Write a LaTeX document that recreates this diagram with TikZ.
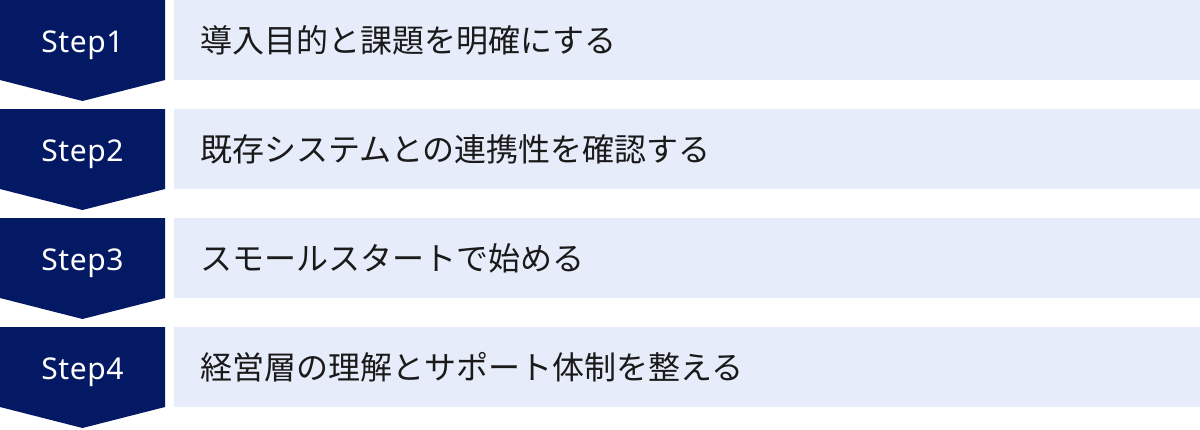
\documentclass[tikz,border=0pt]{standalone}
\usepackage{fontspec}
\setmainfont{Noto Sans CJK JP}
\newfontfamily\stepfont[LetterSpace=2]{Noto Sans}
\usepackage{tikz}
\usetikzlibrary{positioning}
\definecolor{stepnavy}{RGB}{4,25,99}
\definecolor{boxblue}{RGB}{230,236,250}
\definecolor{textdark}{RGB}{26,26,26}
% one dark step marker: rectangle with a downward point
\newcommand{\stepmark}[1]{%
  \fill[stepnavy] (0,#1) -- (165,#1) -- (165,#1+80) -- (82.5,#1+101) -- (0,#1+80) -- cycle;}
\tikzstyle{steplabel} = [text=white, font=\stepfont\fontsize{30}{36}\selectfont, inner sep=0pt, anchor=base]
\tikzstyle{taskbox} = [fill=boxblue, text=textdark, anchor=north west, minimum height=80pt,
  text width=974pt, inner xsep=26pt, inner ysep=0pt, align=left,
  font=\fontsize{32}{38}\selectfont]

\begin{document}
\begin{tikzpicture}[x=1pt, y=-1pt]
			\useasboundingbox (0,0) rectangle (1200,429);
			\stepmark{0}
			\node[steplabel] (s1) at (82.5, 52) {Step1};
			\node[taskbox] (t1) at (174, 0) {導入目的と課題を明確にする};
			\stepmark{109}
			\node[steplabel] (s2) at (82.5, 161) {Step2};
			\node[taskbox] (t2) at (174, 109) {既存システムとの連携性を確認する};
			\stepmark{218}
			\node[steplabel] (s3) at (82.5, 270) {Step3};
			\node[taskbox] (t3) at (174, 218) {スモールスタートで始める};
			\stepmark{327}
			\node[steplabel] (s4) at (82.5, 379) {Step4};
			\node[taskbox] (t4) at (174, 327) {経営層の理解とサポート体制を整える};
		\end{tikzpicture}
\end{document}
